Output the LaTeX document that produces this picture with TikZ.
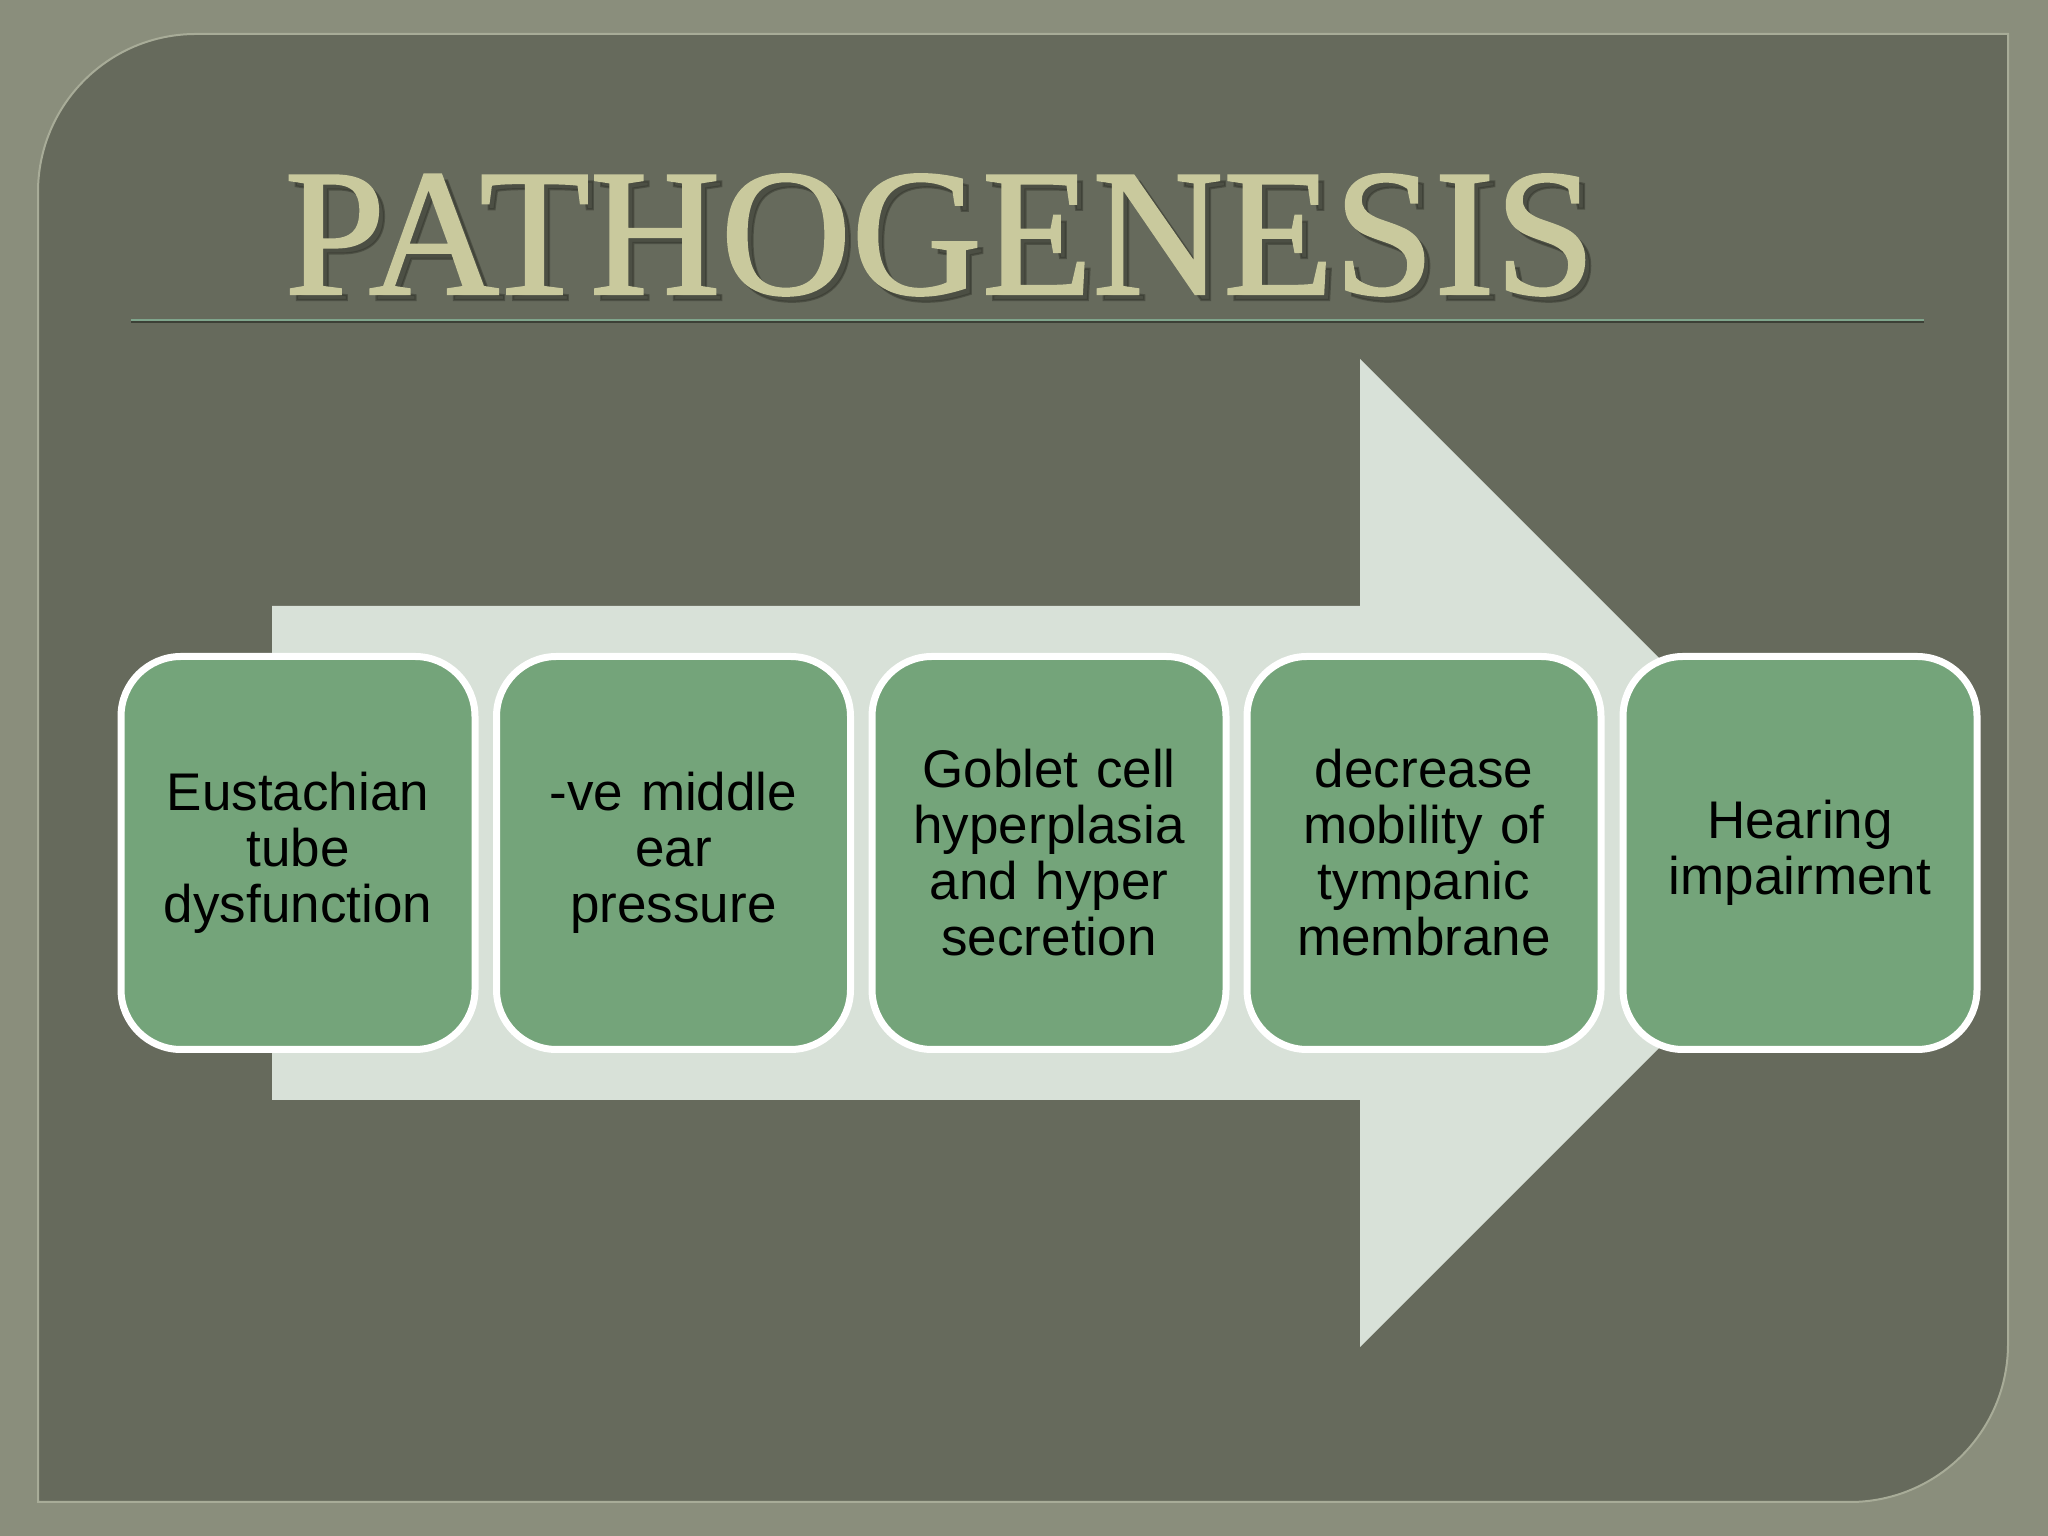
\documentclass[tikz,border=0pt]{standalone}
\usepackage{fontspec}
\setmainfont{Liberation Sans}
\newfontfamily\titlefont[FakeBold=1.2]{Liberation Serif}
\definecolor{outerbg}{HTML}{8A8E7C}
\definecolor{panelc}{HTML}{666A5C}
\definecolor{rimc}{HTML}{A8AC98}
\definecolor{arrowc}{HTML}{D8E1D8}
\definecolor{boxgreen}{HTML}{74A47A}
\definecolor{titlec}{HTML}{C9C99D}
\definecolor{shadowc}{HTML}{34362D}
\definecolor{rulegreen}{HTML}{7FA58C}
\definecolor{ruledark}{HTML}{3C4036}
\tikzset{
  stepbox/.style={draw=white, line width=7pt, fill=boxgreen, rounded corners=60pt,
    minimum width=354pt, minimum height=393pt, inner sep=0pt, text width=340pt,
    align=center, text=black, font=\fontsize{53}{56}\selectfont},
  titlestyle/.style={font=\titlefont\fontsize{181}{184}\selectfont, anchor=base, inner sep=0pt}
}
\begin{document}
\begin{tikzpicture}[x=1pt,y=1pt]
\useasboundingbox (0,0) rectangle (2048,1536);
% outer background
\fill[outerbg] (0,0) rectangle (2048,1536);
% panel
\fill[panelc, draw=rimc, line width=2pt] (38,34) -- (38,1344) arc[start angle=180, end angle=90, radius=158]
  -- (2008,1502) -- (2008,192) arc[start angle=0, end angle=-90, radius=158] -- cycle;
% title with shadow
\node[titlestyle, text=shadowc, opacity=0.5] (titleshadow) at (946,1236) {PATHOGENESIS};
\node[titlestyle, text=titlec] (title) at (940,1242) {PATHOGENESIS};
% rule
\coordinate (ruleL) at (131,1216);
\coordinate (ruleR) at (1924,1216);
\draw[rulegreen, line width=2pt] (ruleL) -- (ruleR);
\draw[ruledark, line width=2pt] ([yshift=-2pt]ruleL) -- ([yshift=-2pt]ruleR);
% big arrow
\fill[arrowc] (272,436) -- (272,930) -- (1360,930) -- (1360,1177) -- (1854,683)
  -- (1360,189) -- (1360,436) -- cycle;
% boxes
\node[stepbox] (b1) at (298,683) {Eustachian\\tube\\dysfunction};
\node[stepbox] (b2) at (673.5,683) {-ve middle\\ear\\pressure};
\node[stepbox] (b3) at (1049,683) {Goblet cell\\hyperplasia\\and hyper\\secretion};
\node[stepbox] (b4) at (1424,683) {decrease\\mobility of\\tympanic\\membrane};
\node[stepbox] (b5) at (1800,683) {Hearing\\impairment};
\end{tikzpicture}
\end{document}
